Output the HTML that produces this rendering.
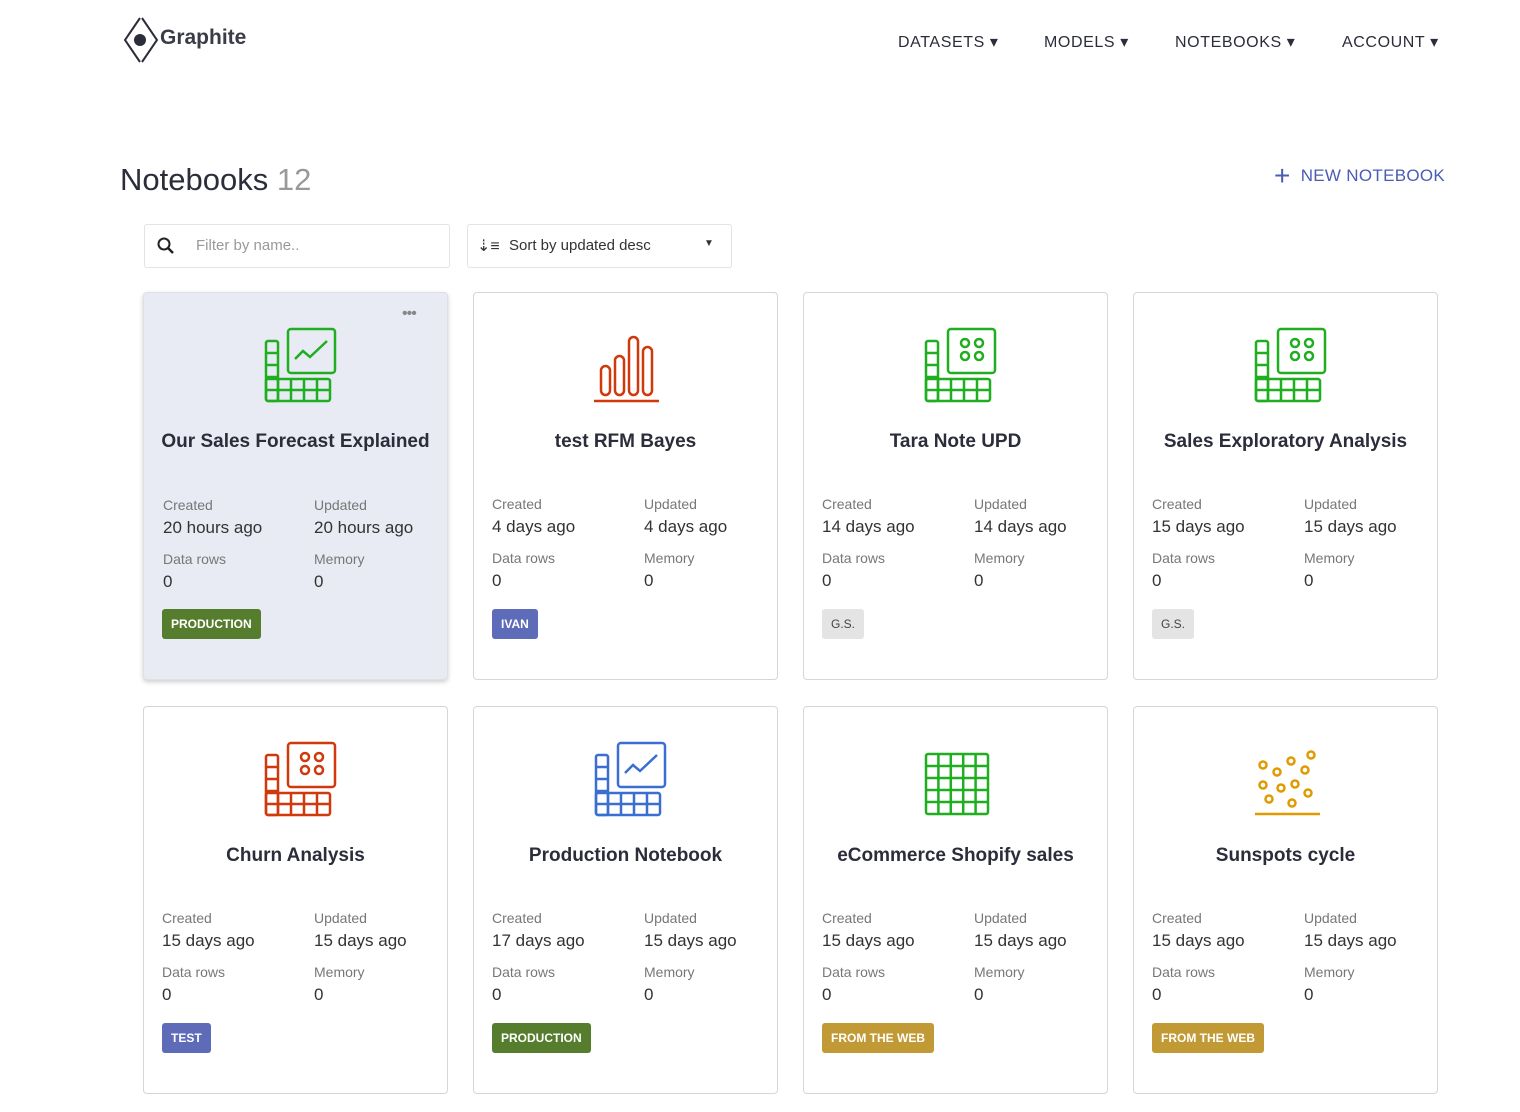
<!DOCTYPE html><html><head><meta charset="utf-8"><style>
body{margin:0;width:1520px;height:1112px;background:#fff;font-family:"Liberation Sans",sans-serif;color:#333;position:relative;overflow:hidden}
.a{position:absolute}
.nav{position:absolute;top:32px;font-size:16px;letter-spacing:.6px;color:#2b2d3a}
.card{position:absolute;width:303px;height:386px;border:1px solid #d6d6d6;border-radius:4px;background:#fff}
.card.sel{background:#e8ebf4;box-shadow:0 2px 5px rgba(0,0,0,.2);border-color:#e0e0e0}
.card svg{position:absolute;left:0;top:0}
.t{position:absolute;top:138px;left:0;width:303px;text-align:center;font-size:19px;font-weight:bold;color:#2b2d3a}
.l{position:absolute;font-size:14px;color:#777}
.v{position:absolute;font-size:17px;color:#333}
.tag{position:absolute;left:18px;top:316px;height:30px;line-height:30px;padding:0 9px;font-size:12px;font-weight:bold;color:#fff;border-radius:3px}
</style></head><body>
<svg class="a" style="left:121px;top:16px" width="40" height="48" viewBox="0 0 40 48"><path d="M19 2 L4 24 L19 46 M21 2 L36 24 L21 46" fill="none" stroke="#2b2d3a" stroke-width="2"/><circle cx="19" cy="24" r="6" fill="#2b2d3a"/></svg>
<div class="a" style="left:160px;top:26px;font-size:21px;font-weight:bold;color:#3a3c48">Graphite</div>
<div class="nav" style="left:898px">DATASETS ▾</div>
<div class="nav" style="left:1044px">MODELS ▾</div>
<div class="nav" style="left:1175px">NOTEBOOKS ▾</div>
<div class="nav" style="left:1342px">ACCOUNT ▾</div>
<div class="a" style="left:120px;top:162px;font-size:31px;color:#2b2d3a">Notebooks <span style="color:#999;font-weight:normal">12</span></div>
<div class="a" style="left:1274px;top:160px;font-size:17px;color:#4a5cb5;letter-spacing:.3px"><span style="font-size:28px;vertical-align:-4px">+</span>&nbsp; NEW NOTEBOOK</div>
<div class="a" style="left:144px;top:224px;width:304px;height:42px;border:1px solid #e3e3e3;border-radius:3px"></div>
<svg class="a" style="left:156px;top:236px" width="20" height="20"><circle cx="8" cy="8" r="5.5" fill="none" stroke="#222" stroke-width="2"/><line x1="12" y1="12" x2="17" y2="17" stroke="#222" stroke-width="2.5"/></svg>
<div class="a" style="left:196px;top:237px;font-size:15px;color:#999">Filter by name..</div>
<div class="a" style="left:467px;top:224px;width:263px;height:42px;border:1px solid #e3e3e3;border-radius:3px"></div>
<div class="a" style="left:477px;top:236px;font-size:16px;color:#333">⇣≡</div>
<div class="a" style="left:509px;top:237px;font-size:15px;color:#333">Sort by updated desc</div>
<div class="a" style="left:704px;top:238px;font-size:10px;color:#333">▼</div>

<!-- Row 1 -->
<div class="card sel" style="left:143px;top:292px">
<div class="a" style="left:258px;top:12px;color:#888;font-size:16px;letter-spacing:-1px">•••</div>
<svg width="303" height="130" fill="none" stroke="#1fae1f" stroke-width="2.5"><rect x="122" y="48" width="12" height="60" rx="2"/><path d="M122 60h12M122 72h12M122 84h12"/><rect x="122" y="86" width="64" height="22" rx="2"/><path d="M134 86v22M147 86v22M160 86v22M173 86v22M122 97h64"/><rect x="144" y="36" width="47" height="44" rx="3" fill="#e8ebf4"/><polyline points="151,66 159,58 166,64 183,48"/></svg>
<div class="t">Our Sales Forecast Explained</div>
<div class="l" style="left:19px;top:204px">Created</div><div class="v" style="left:19px;top:225px">20 hours ago</div>
<div class="l" style="left:170px;top:204px">Updated</div><div class="v" style="left:170px;top:225px">20 hours ago</div>
<div class="l" style="left:19px;top:258px">Data rows</div><div class="v" style="left:19px;top:279px">0</div>
<div class="l" style="left:170px;top:258px">Memory</div><div class="v" style="left:170px;top:279px">0</div>
<div class="tag" style="background:#567d2e">PRODUCTION</div></div>

<div class="card" style="left:473px;top:292px">
<svg width="303" height="130" fill="none" stroke="#d0390b" stroke-width="2.5"><rect x="127" y="73" width="9" height="29" rx="4.5"/><rect x="141" y="63" width="9" height="39" rx="4.5"/><rect x="155" y="44" width="9" height="58" rx="4.5"/><rect x="169" y="54" width="9" height="48" rx="4.5"/><path d="M120 108h65"/></svg>
<div class="t">test RFM Bayes</div>
<div class="l" style="left:18px;top:203px">Created</div><div class="v" style="left:18px;top:224px">4 days ago</div>
<div class="l" style="left:170px;top:203px">Updated</div><div class="v" style="left:170px;top:224px">4 days ago</div>
<div class="l" style="left:18px;top:257px">Data rows</div><div class="v" style="left:18px;top:278px">0</div>
<div class="l" style="left:170px;top:257px">Memory</div><div class="v" style="left:170px;top:278px">0</div>
<div class="tag" style="background:#5d6bb8">IVAN</div></div>

<div class="card" style="left:803px;top:292px">
<svg width="303" height="130" fill="none" stroke="#1fae1f" stroke-width="2.5"><rect x="122" y="48" width="12" height="60" rx="2"/><path d="M122 60h12M122 72h12M122 84h12"/><rect x="122" y="86" width="64" height="22" rx="2"/><path d="M134 86v22M147 86v22M160 86v22M173 86v22M122 97h64"/><rect x="144" y="36" width="47" height="44" rx="3" fill="#fff"/><circle cx="161" cy="50" r="4"/><circle cx="175" cy="50" r="4"/><circle cx="161" cy="63" r="4"/><circle cx="175" cy="63" r="4"/></svg>
<div class="t">Tara Note UPD</div>
<div class="l" style="left:18px;top:203px">Created</div><div class="v" style="left:18px;top:224px">14 days ago</div>
<div class="l" style="left:170px;top:203px">Updated</div><div class="v" style="left:170px;top:224px">14 days ago</div>
<div class="l" style="left:18px;top:257px">Data rows</div><div class="v" style="left:18px;top:278px">0</div>
<div class="l" style="left:170px;top:257px">Memory</div><div class="v" style="left:170px;top:278px">0</div>
<div class="tag" style="background:#e4e4e4;color:#444;font-weight:normal">G.S.</div></div>

<div class="card" style="left:1133px;top:292px">
<svg width="303" height="130" fill="none" stroke="#1fae1f" stroke-width="2.5"><rect x="122" y="48" width="12" height="60" rx="2"/><path d="M122 60h12M122 72h12M122 84h12"/><rect x="122" y="86" width="64" height="22" rx="2"/><path d="M134 86v22M147 86v22M160 86v22M173 86v22M122 97h64"/><rect x="144" y="36" width="47" height="44" rx="3" fill="#fff"/><circle cx="161" cy="50" r="4"/><circle cx="175" cy="50" r="4"/><circle cx="161" cy="63" r="4"/><circle cx="175" cy="63" r="4"/></svg>
<div class="t">Sales Exploratory Analysis</div>
<div class="l" style="left:18px;top:203px">Created</div><div class="v" style="left:18px;top:224px">15 days ago</div>
<div class="l" style="left:170px;top:203px">Updated</div><div class="v" style="left:170px;top:224px">15 days ago</div>
<div class="l" style="left:18px;top:257px">Data rows</div><div class="v" style="left:18px;top:278px">0</div>
<div class="l" style="left:170px;top:257px">Memory</div><div class="v" style="left:170px;top:278px">0</div>
<div class="tag" style="background:#e4e4e4;color:#444;font-weight:normal">G.S.</div></div>

<!-- Row 2 -->
<div class="card" style="left:143px;top:706px">
<svg width="303" height="130" fill="none" stroke="#d0390b" stroke-width="2.5"><rect x="122" y="48" width="12" height="60" rx="2"/><path d="M122 60h12M122 72h12M122 84h12"/><rect x="122" y="86" width="64" height="22" rx="2"/><path d="M134 86v22M147 86v22M160 86v22M173 86v22M122 97h64"/><rect x="144" y="36" width="47" height="44" rx="3" fill="#fff"/><circle cx="161" cy="50" r="4"/><circle cx="175" cy="50" r="4"/><circle cx="161" cy="63" r="4"/><circle cx="175" cy="63" r="4"/></svg>
<div class="t">Churn Analysis</div>
<div class="l" style="left:18px;top:203px">Created</div><div class="v" style="left:18px;top:224px">15 days ago</div>
<div class="l" style="left:170px;top:203px">Updated</div><div class="v" style="left:170px;top:224px">15 days ago</div>
<div class="l" style="left:18px;top:257px">Data rows</div><div class="v" style="left:18px;top:278px">0</div>
<div class="l" style="left:170px;top:257px">Memory</div><div class="v" style="left:170px;top:278px">0</div>
<div class="tag" style="background:#5d6bb8">TEST</div></div>

<div class="card" style="left:473px;top:706px">
<svg width="303" height="130" fill="none" stroke="#3a6fd1" stroke-width="2.5"><rect x="122" y="48" width="12" height="60" rx="2"/><path d="M122 60h12M122 72h12M122 84h12"/><rect x="122" y="86" width="64" height="22" rx="2"/><path d="M134 86v22M147 86v22M160 86v22M173 86v22M122 97h64"/><rect x="144" y="36" width="47" height="44" rx="3" fill="#fff"/><polyline points="151,66 159,58 166,64 183,48"/></svg>
<div class="t">Production Notebook</div>
<div class="l" style="left:18px;top:203px">Created</div><div class="v" style="left:18px;top:224px">17 days ago</div>
<div class="l" style="left:170px;top:203px">Updated</div><div class="v" style="left:170px;top:224px">15 days ago</div>
<div class="l" style="left:18px;top:257px">Data rows</div><div class="v" style="left:18px;top:278px">0</div>
<div class="l" style="left:170px;top:257px">Memory</div><div class="v" style="left:170px;top:278px">0</div>
<div class="tag" style="background:#567d2e">PRODUCTION</div></div>

<div class="card" style="left:803px;top:706px">
<svg width="303" height="130" fill="none" stroke="#1fae1f" stroke-width="2.5"><rect x="122" y="47" width="62" height="60" rx="2"/><path d="M134.4 47v60M146.8 47v60M159.2 47v60M171.6 47v60M122 59h62M122 71h62M122 83h62M122 95h62"/></svg>
<div class="t">eCommerce Shopify sales</div>
<div class="l" style="left:18px;top:203px">Created</div><div class="v" style="left:18px;top:224px">15 days ago</div>
<div class="l" style="left:170px;top:203px">Updated</div><div class="v" style="left:170px;top:224px">15 days ago</div>
<div class="l" style="left:18px;top:257px">Data rows</div><div class="v" style="left:18px;top:278px">0</div>
<div class="l" style="left:170px;top:257px">Memory</div><div class="v" style="left:170px;top:278px">0</div>
<div class="tag" style="background:#c19a35">FROM THE WEB</div></div>

<div class="card" style="left:1133px;top:706px">
<svg width="303" height="130" fill="none" stroke="#e09a00" stroke-width="2.5"><circle cx="129" cy="58" r="3.5"/><circle cx="143" cy="65" r="3.5"/><circle cx="157" cy="54" r="3.5"/><circle cx="177" cy="48" r="3.5"/><circle cx="171" cy="63" r="3.5"/><circle cx="129" cy="78" r="3.5"/><circle cx="147" cy="81" r="3.5"/><circle cx="161" cy="77" r="3.5"/><circle cx="174" cy="86" r="3.5"/><circle cx="135" cy="92" r="3.5"/><circle cx="158" cy="96" r="3.5"/><path d="M121 107h65"/></svg>
<div class="t">Sunspots cycle</div>
<div class="l" style="left:18px;top:203px">Created</div><div class="v" style="left:18px;top:224px">15 days ago</div>
<div class="l" style="left:170px;top:203px">Updated</div><div class="v" style="left:170px;top:224px">15 days ago</div>
<div class="l" style="left:18px;top:257px">Data rows</div><div class="v" style="left:18px;top:278px">0</div>
<div class="l" style="left:170px;top:257px">Memory</div><div class="v" style="left:170px;top:278px">0</div>
<div class="tag" style="background:#c19a35">FROM THE WEB</div></div>
</body></html>
